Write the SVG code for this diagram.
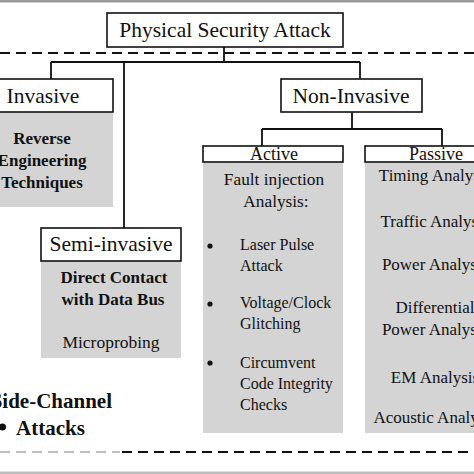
<svg xmlns="http://www.w3.org/2000/svg" width="474" height="474" viewBox="0 0 474 474">
<style>
.box{fill:#fff;stroke:#111;stroke-width:1.6}
.panel{fill:#d4d4d4;stroke:none}
.t{font-family:"Liberation Serif","Times New Roman",serif;fill:#111}
.h{font-size:21.5px;text-anchor:middle}
.s{font-size:18px;text-anchor:middle}
.b{font-weight:bold}
.m{text-anchor:middle}
.line{stroke:#111;stroke-width:1.8;fill:none}
.dash{stroke:#111;stroke-width:1.8;stroke-dasharray:10 6;fill:none}
</style>
<rect x="0" y="0" width="474" height="2.5" fill="#9a9a9a"/>
<rect x="0" y="471.5" width="474" height="2.5" fill="#bdbdbd"/>
<g id="connectors">
<line class="dash" x1="0" y1="53" x2="474" y2="53"/>
<line class="dash" x1="0" y1="452" x2="120" y2="452" stroke="#a8a8a8" style="stroke:#a8a8a8;stroke-width:1.4"/>
<line class="dash" x1="122" y1="452" x2="474" y2="452"/>
<path class="line" d="M224 47V62M51 62H360M51 62V79M124 62V228M360 62V79"/>
<path class="line" d="M352 112V129M262 129H442M262 129V146M442 129V146"/>
</g>
<g id="title">
<rect class="box" x="107" y="13" width="236" height="34"/>
<text class="t h" x="225" y="37">Physical Security Attack</text>
</g>
<g id="invasive">
<rect class="panel" x="-2" y="112" width="115" height="95"/>
<rect class="box" x="-2" y="79" width="115" height="33"/>
<text class="t h" x="43" y="103">Invasive</text>
<text class="t b m" font-size="17" x="42" y="144">Reverse</text>
<text class="t b m" font-size="17" x="42" y="166">Engineering</text>
<text class="t b m" font-size="17" x="42" y="188">Techniques</text>
</g>
<g id="semi-invasive">
<rect class="panel" x="41" y="261" width="140" height="97"/>
<rect class="box" x="41" y="228" width="140" height="33"/>
<text class="t h" x="111" y="251">Semi-invasive</text>
<text class="t b m" font-size="17" x="114" y="283">Direct Contact</text>
<text class="t b m" font-size="17" x="113" y="305">with Data Bus</text>
<text class="t m" font-size="17.5" x="111" y="348">Microprobing</text>
</g>
<g id="non-invasive">
<rect class="box" x="281" y="79" width="141" height="33"/>
<text class="t h" x="351" y="103">Non-Invasive</text>
</g>
<g id="active">
<rect class="panel" x="203" y="162" width="140" height="271"/>
<rect class="box" x="203" y="146" width="140" height="16"/>
<text class="t s" x="274" y="159.5">Active</text>
<text class="t m" font-size="17.3" x="274" y="185">Fault injection</text>
<text class="t m" font-size="17.3" x="276" y="207">Analysis:</text>
<g font-size="16" class="t">
<circle cx="210" cy="246" r="2.6" fill="#111"/>
<circle cx="210" cy="304" r="2.6" fill="#111"/>
<circle cx="210" cy="363" r="2.6" fill="#111"/>
<text x="240" y="250">Laser Pulse</text>
<text x="240" y="271">Attack</text>
<text x="240" y="308">Voltage/Clock</text>
<text x="240" y="329">Glitching</text>
<text x="240" y="368">Circumvent</text>
<text x="240" y="389">Code Integrity</text>
<text x="240" y="410">Checks</text>
</g>
</g>
<g id="passive">
<rect class="panel" x="365" y="162" width="142" height="271"/>
<rect class="box" x="365" y="146" width="142" height="16"/>
<text class="t s" x="436" y="159.5">Passive</text>
<g class="t m" font-size="17">
<text x="435" y="181">Timing Analysis</text>
<text x="435" y="227">Traffic Analysis</text>
<text x="435" y="270">Power Analysis</text>
<text x="435" y="313">Differential</text>
<text x="435" y="335">Power Analysis</text>
<text x="435" y="383">EM Analysis</text>
<text x="435" y="423">Acoustic Analysis</text>
</g>
</g>
<g id="side-channel">
<text class="t b" font-size="21" text-anchor="end" x="112" y="408">Side-Channel</text>
<circle cx="2.5" cy="427" r="3.5" fill="#111"/>
<text class="t b" font-size="21" x="16" y="435">Attacks</text>
</g>
</svg>
